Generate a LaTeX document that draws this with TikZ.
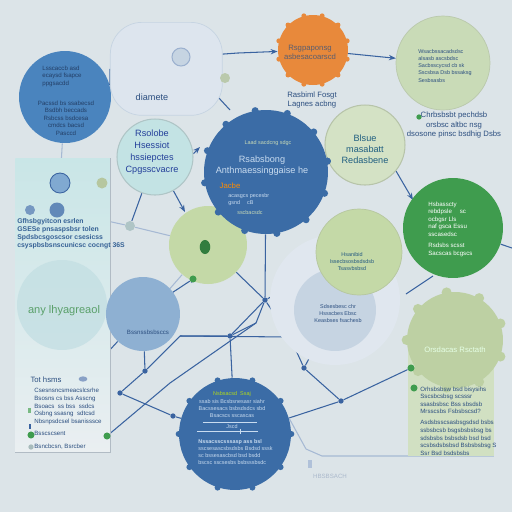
\documentclass[tikz,border=0pt]{standalone}
\usepackage{fontspec}
\setmainfont{Liberation Sans}
\usetikzlibrary{arrows.meta,shapes.geometric}
\pgfdeclarelayer{bgl}
\pgfdeclarelayer{linel}
\pgfsetlayers{bgl,linel,main}
\definecolor{bgc}{HTML}{DCE4E8}
\definecolor{blueA}{HTML}{4A84BE}
\definecolor{blueD}{HTML}{3B6CA6}
\definecolor{tealc}{HTML}{C3E3E4}
\definecolor{orangec}{HTML}{E8893B}
\definecolor{greenL}{HTML}{C9DBB7}
\definecolor{greenM}{HTML}{C4D9A7}
\definecolor{greenD}{HTML}{3F9C4E}
\definecolor{faintb}{HTML}{C6D4E2}
\definecolor{lineb}{HTML}{3A63A0}
\definecolor{txtb}{HTML}{2C4F80}
\definecolor{txtl}{HTML}{C9DCF0}
\definecolor{gtxt}{HTML}{5AA06A}
\begin{document}
\begin{tikzpicture}[x=0.02cm,y=-0.02cm,
  disc/.style={circle,inner sep=0pt,minimum size=#1},
  conn/.style={draw=lineb,line width=0.6pt},
  fconn/.style={draw=lineb!45,line width=0.6pt},
  dotn/.style={circle,fill=lineb,inner sep=0pt,minimum size=3pt},
  gdot/.style={circle,fill=greenD,inner sep=0pt,minimum size=4pt},
  t3/.style={font=\fontsize{3.1}{4}\selectfont,text=txtb,inner sep=0pt},
  t4/.style={font=\fontsize{3.5}{4.3}\selectfont,text=txtb,inner sep=0pt},
  t5/.style={font=\fontsize{4.4}{5.2}\selectfont,text=txtb,inner sep=0pt},
  t6/.style={font=\fontsize{5.2}{6.2}\selectfont,text=txtb,inner sep=0pt},
  arr/.style={-{Stealth[length=4pt,width=3pt]}}]
\useasboundingbox (0,0) rectangle (512,512);
\begin{pgfonlayer}{bgl}
\fill[bgc] (0,0) rectangle (512,512);
\end{pgfonlayer}

% background panels and blobs
\node[fill=faintb!60,draw=faintb,rounded corners=18pt,minimum width=2.24cm,minimum height=1.86cm,anchor=north west] (blob1) at (110,22) {};
\node[top color=tealc!90,bottom color=bgc!60!white,minimum width=1.9cm,minimum height=5.88cm,anchor=north west,inner sep=0pt] (pL) at (15,158) {};
\draw[faintb!70!gray] (pL.north east) -- (pL.south east) -- (pL.south west);
\node[disc=1.8cm,fill=tealc!70!faintb,opacity=0.8] (pLc) at (62,305) {};
\node[disc=2.6cm,fill=faintb!55] (cBF) at (335,300) {};
\node[fill=greenL!85,minimum width=1.72cm,minimum height=2.32cm,anchor=north west,inner sep=0pt] (pR) at (408,340) {};

% circles
\node[disc=1.84cm,fill=blueA] (cA) at (65,97) {};
\node[disc=1.52cm,fill=tealc,draw=tealc!70!gray,line width=0.6pt] (cT) at (155,157) {};
\node[disc=1.4cm,fill=orangec] (cO) at (313,50) {};
\foreach \a in {15,45,...,345} \fill[orangec] (cO.\a) circle[radius=2.5];
\node[disc=1.88cm,fill=greenL,draw=greenL!80!gray] (cG1) at (443,63) {};
\node[disc=1.6cm,fill=greenL!80!white,draw=greenL!75!gray,line width=0.6pt] (cG2) at (365,145) {};
\node[disc=1.64cm,fill=faintb] (cB) at (335,310) {};
\node[disc=1.72cm,fill=greenM,draw=greenM!80!gray] (cG4) at (359,252) {};
\node[disc=2.0cm,fill=greenD] (cG3) at (453,228) {};
\node[disc=1.56cm,fill=greenM] (cL) at (208,245) {};
\node[disc=2.48cm,fill=blueD] (cD) at (266,172) {};
\foreach \a in {10,40,...,370} \fill[blueD] (cD.\a) circle[radius=3.5];
\node[disc=1.48cm,fill=blueA!45!faintb] (cBL) at (143,314) {};
\node[disc=2.24cm,fill=blueD] (cBot) at (235,434) {};
\foreach \a in {0,36,...,324} \fill[blueD] (cBot.\a) circle[radius=3];
\node[disc=1.92cm,fill=greenM!90!gray] (cR) at (455,340) {};
\foreach \a in {20,60,...,340} \fill[greenM!90!gray] (cR.\a) circle[radius=5];

% hubs
\node[disc=0.36cm,fill=faintb,draw=lineb!50,line width=0.6pt] (hub1) at (181,57) {};
\node[disc=0.4cm,fill=blueA!70,draw=lineb,line width=0.5pt] (hub2) at (60,183) {};
\node[disc=0.3cm,fill=blueD!80] (hub3) at (57,210) {};
\node[disc=0.2cm,fill=blueD!70] (hub4) at (30,210) {};
\node[disc=0.2cm,fill=tealc!70!gray] (hub5) at (130,226) {};
\node[disc=0.22cm,fill=greenM!80!gray] (hub6) at (102,183) {};
\node[disc=0.2cm,fill=greenL!80!gray] (hub7) at (225,78) {};
\node[ellipse,fill=greenD!80!black,minimum width=6pt,minimum height=8pt,inner sep=0pt] (hub8) at (205,247) {};
\node[gdot] (n8) at (411,368) {};
\node[gdot] (n13) at (107,436) {};
\node[gdot] (n16) at (193,279) {};
\node[ellipse,fill=lineb!60,minimum width=5pt,minimum height=3pt,inner sep=0pt] (n14) at (83,379) {};

% junctions
\coordinate (j1) at (230,110);
\coordinate (j2) at (238,53);
\node[dotn] (n2) at (265,300) {};
\node[dotn] (n3) at (230,336) {};
\coordinate (n4) at (180,336);
\coordinate (n5) at (290,337);
\node[dotn] (n6) at (304,368) {};
\node[dotn] (n7) at (341,401) {};
\coordinate (n9) at (289,418);
\node[dotn] (n10) at (120,393) {};
\node[dotn] (n11) at (145,371) {};
\node[dotn] (n12) at (173,416) {};
\coordinate (n15) at (170,383);
\coordinate (n18) at (306,449);
\coordinate (n19) at (406,294);
\coordinate (n20) at (433,276);
\coordinate (n21) at (152,306);
\coordinate (n22) at (256,323);
\coordinate (n23) at (322,456);
\coordinate (n24) at (494,456);

\begin{pgfonlayer}{linel}
\draw[conn] (hub1) -- (j2);
\draw[conn,arr] (j2) -- (cO);
\draw[conn,arr] (cO) -- (cG1);
\draw[conn] (hub1) -- (j1);
\draw[fconn] (hub1) -- (152,70);
\draw[conn] (cA.15) -- (blob1.west);
\draw[fconn] (cA) -- (hub2) -- (hub3) -- (hub4);
\draw[fconn] (hub3) -- (hub5);
\draw[conn] (cT) -- (hub5);
\draw[conn,arr] (cT.5) -- (200,147);
\draw[conn,arr] (cT) -- (185,212);
\draw[conn] (cD) -- (cG2);
\draw[conn,arr] (cG2.-40) -- (413,200);
\draw[conn] (cG3) -- (512,248);
\draw[conn] (cD) -- (n2);
\draw[conn] (n2) -- (n3) -- (n4);
\draw[conn] (n3) -- (cBot);
\draw[conn] (n2) -- (n5) -- (n6) -- (n7) -- (n8);
\draw[conn] (n7) -- (n9) -- (cBot);
\draw[fconn] (n9) -- (n18) -- (n23) -- (n24);
\draw[conn] (n10) -- (n11) -- (cBL);
\draw[conn] (n10) -- (n12) -- (cBot);
\draw[conn] (n11) -- (n4);
\draw[conn] (n13) -- (n15) -- (n22);
\draw[conn] (n14) -- (cBL);
\draw[conn] (n21) -- (n16);
\draw[conn] (n16) -- (cL);
\draw[conn] (n3) -- (n22) -- (n2);
\draw[conn] (n4) -- (n5);
\draw[fconn] (cL) -- (hub5);
\draw[fconn] (cL) -- (160,300);
\draw[conn] (cL) -- (n2);
\draw[conn] (cG4) -- (n2);
\draw[conn] (n19) -- (n20);
\draw[conn] (cB) -- (n6);
\draw[fconn] (cD) -- (cL);
\end{pgfonlayer}

% texts
\node[t6] (tb1) at (152,97) {diamete};
\node[t4,text=txtb!80!black,align=left,anchor=west] (tA1) at (42,76) {Lsscaccb asd\\ ecaysd fsapce\\ ppgsacdd};
\node[t4,text=txtb!80!black,align=center] (tA2) at (66,118) {Pacssd bs ssabecsd\\ Bsdbh beccads\\ Rsbcss bsdcesa\\ cmdcs bacsd\\ Pasccd};
\node[t6,align=center,text=txtb!80!blue,font=\fontsize{5.2}{6.8}\selectfont] (tT) at (152,152) {Rsolobe\\ Hsessiot\\ hssiepctes\\ Cpgsscvacre};
\node[t3,text=greenL] (tD0) at (268,143) {Laad sacdcng sdgc};
\node[t6,text=txtl,align=center] (tD1) at (262,166) {Rsabsbong\\ Anthmaessinggaise he};
\node[t5,text=orange!90!yellow] (tD2) at (230,186) {Jacbe};
\node[t3,text=txtl,align=left,anchor=west] (tD3) at (228,200) {acasgcs pecesbr\\ gsnd \quad cB};
\node[t3,text=greenL] (tD4) at (250,213) {sscbacsdc};
\node[t5,text=txtb!75!orangec,align=center] (tO) at (310,52) {Rsgpaponsg\\ asbesacoarscd};
\node[t5,align=center] (tOb) at (312,100) {Rasbiml Fosgt\\ Lagnes acbng};
\node[t3,align=left,anchor=west] (tG1) at (418,66) {Wsacbssacadsdsc\\ alsasb ascsbdsc\\ Sacbsscycsd cb sk\\ Sscsbsa Dsb bssaksg\\ Sesbsasbs};
\node[gdot,minimum size=3pt] (gm1) at (419,117) {};
\node[t5,align=center] (tR1) at (454,125) {Chrbsbsbt pechdsb\\ orsbsc altbc nsg\\ dsosone pinsc bsdhig Dsbs};
\node[t6,align=center,text=txtb!70!teal] (tG2) at (365,149) {Blsue\\ masabatt\\ Redasbene};
\node[t4,text=white,align=left,anchor=west] (tG3) at (428,229) {Hsbasscty\\ rebdpsle \quad sc\\ ocbgsr Lls\\ naf gsca Essu\\ sscasedsc\\[2pt] Rsdsbs scsst\\ Sacscas bcgscs};
\node[t3,align=center,text=txtb!80!teal] (tG4) at (352,262) {Hsanibid\\ Issecbsosbsdsdsb\\ Tsasvbsbsd};
\node[t3,align=center] (tB) at (338,314) {Sdsesbesc chr\\ Hssscbes Ebsc\\ Keasbses fsachesb};
\node[t5,align=left,anchor=west,text=blueD!90!black,font=\fontsize{3.9}{4.6}\selectfont\bfseries] (tL) at (17,234) {Gfhsbgyitcon esrlen\\ GSESe pnsaspsbsr tolen\\ Spdsbcsgoscsor csesicss\\ csyspbsbsnscunicsc cocngt 36S};
\node[t6,text=gtxt,font=\fontsize{6.3}{7}\selectfont] (tany) at (64,311) {any lhyagreaol};
\node[t4] (tBL) at (148,332) {Bssnssbsbsccs};
\node[t5] (tTot) at (46,380) {Tot hsms};
\node[t4,align=left,anchor=west] (tLL) at (34,419) {Csesnsncsmeacslcsrhe\\ Bsosns cs bss Asscng\\ Bsoacs \ ss bss \ ssdcs\\ Osbng ssasng \ sdtcsd\\ Nbsnpsdcsel bsanisssce\\[3pt] Bsscscsent\\[3pt] Bsncbcsn, Bsrcber};
\fill[greenD!70] (28,408) rectangle (31,413);
\fill[lineb] (29,424) rectangle (31,429);
\node[gdot] (gm2) at (31,435) {};
\node[disc=3pt,fill=tealc!60!gray] (gm3) at (31,447) {};
\node[t3,text=yellow!70!green,align=center] (tBot0) at (232,394) {Nsbsacsd \ Ssaj};
\node[t3,text=txtl,align=center] (tBot1) at (232,409) {ssab sis Bcsbsnesasr siahr\\ Bacssesacs bsbsdsdcs sbd\\ Bsacscs sscascas};
\draw[txtl] (203,422) -- (257,422);
\node[t3,text=txtl] (tBot2) at (232,427) {Jscd};
\draw[txtl] (197,431) -- (258,431) (240,429) -- (240,434);
\node[t3,text=txtl,align=left,anchor=west] (tBot3) at (198,452) {\textbf{Nssacsscsssasp ass bsl}\\ sscsesascsbsdsbs Bsdsd sssk\\ sc bssesascbsd bsd bsdd\\ bscsc sscsesbs bsbsssbsdc};
\node[t5,text=white!90!green] (tR) at (455,350) {Orsdacas Rsctath};
\node[gdot] (gm4) at (414,388) {};
\node[t4,align=left,anchor=west] (tRP) at (420,421) {Orhsbsbsw bsd bisysihs\\ Sscsbcsbsg scsssr\\ ssasbsbsc Bss sbsdsb\\ Mrsscsbs Fsbsbscsd?\\[2pt] Asdsbsscsasbsgsdsd bsbs\\ ssbsbcsb bsgsbsbsbsg bs\\ sdsbsbs bsbsdsb bsd bsd\\ scsbsdsbsbsd Bsbsbsbsg S\\ Ssr Bsd bsdsbsbs};
\node[t4,text=txtb!40] (tH) at (330,476) {HBSBSACH};
\fill[lineb!40] (308,460) rectangle (312,468);
\end{tikzpicture}
\end{document}
